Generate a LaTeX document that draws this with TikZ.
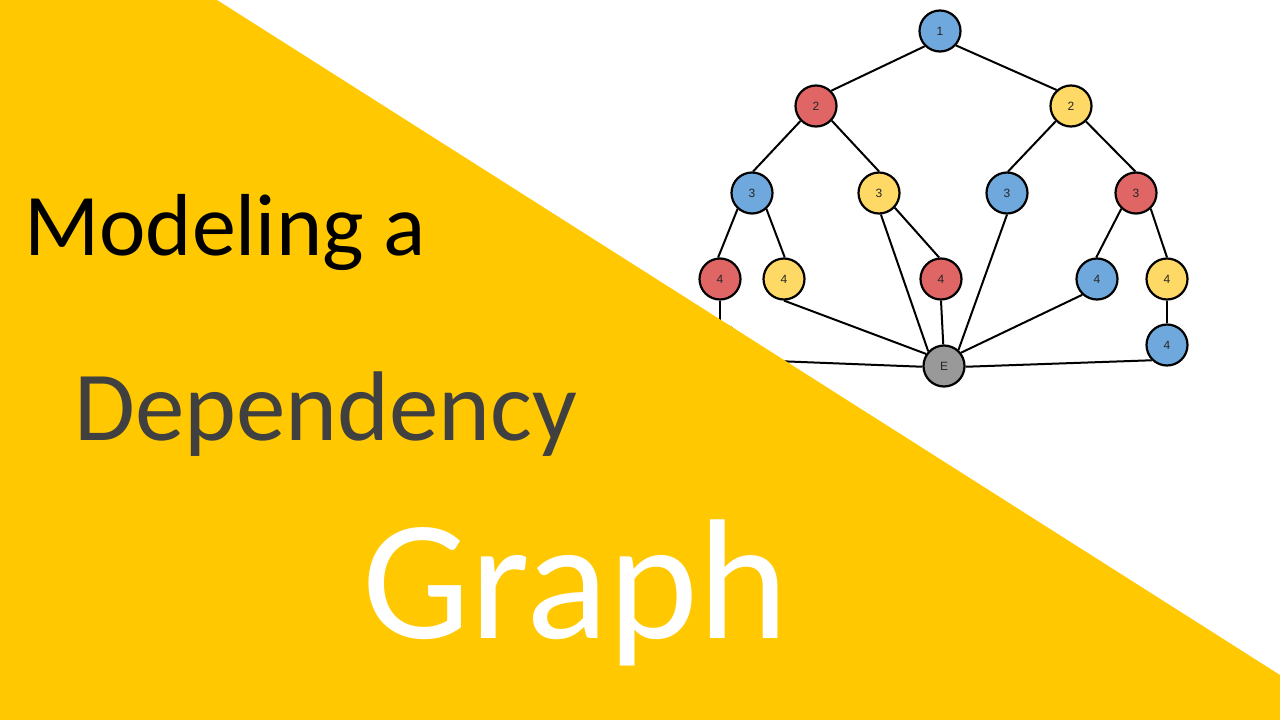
\documentclass[tikz,border=0pt]{standalone}
\usepackage{fontspec}
\setmainfont{Carlito}
\newfontfamily\nodefont{Liberation Sans}
\usetikzlibrary{backgrounds}
\definecolor{cblue}{HTML}{6FA8DC}
\definecolor{cred}{HTML}{E06666}
\definecolor{cyel}{HTML}{FFD966}
\definecolor{cgray}{HTML}{999999}
\definecolor{bgyel}{HTML}{FFC800}
\definecolor{darktxt}{HTML}{404040}
\tikzset{
  vtx/.style={circle, draw=black, line width=2.2pt, minimum size=41pt, inner sep=0pt, font=\nodefont\fontsize{12}{14}\selectfont, text=black!85},
  vb/.style={vtx, fill=cblue},
  vr/.style={vtx, fill=cred},
  vy/.style={vtx, fill=cyel},
  vg/.style={vtx, fill=cgray},
  edge/.style={line width=2pt, black},
  title/.style={anchor=base west, inner sep=0pt}
}
\begin{document}
\begin{tikzpicture}[x=1pt,y=-1pt]
\useasboundingbox (0,0) rectangle (1280,720);
% nodes
\node[vb] (n1) at (940,31) {1};
\node[vr] (n2a) at (816,106) {2};
\node[vy] (n2b) at (1071,106) {2};
\node[vb] (n3a) at (752,193) {3};
\node[vy] (n3b) at (879,193) {3};
\node[vb] (n3c) at (1007,193) {3};
\node[vr] (n3d) at (1136,193) {3};
\node[vr] (n4a) at (720,279) {4};
\node[vy] (n4b) at (784,279) {4};
\node[vr] (n4c) at (941,279) {4};
\node[vb] (n4d) at (1097,279) {4};
\node[vy] (n4e) at (1167,279) {4};
\node[vb] (n4f) at (1167,345) {4};
\node[vb] (n4h) at (720,345) {4};
\node[vg] (nE) at (944,366) {E};
% edges
\begin{scope}[on background layer]
\fill[white] (0,0) rectangle (1280,720);
\draw[edge] (n1.225) -- (n2a.45);
\draw[edge] (n1.318) -- (n2b.132);
\draw[edge] (n2a.224) -- (n3a.87);
\draw[edge] (n2a.317) -- (n3b.90);
\draw[edge] (n2b.225) -- (n3c.87);
\draw[edge] (n2b.314) -- (n3d.92);
\draw[edge] (n3a.228) -- (n4a.95);
\draw[edge] (n3a.312) -- (n4b.88);
\draw[edge] (n3b.317) -- (n4c.95);
\draw[edge] (n3b.275) -- (nE.137);
\draw[edge] (n3c.270) -- (nE.48);
\draw[edge] (n3d.227) -- (n4d.92);
\draw[edge] (n3d.313) -- (n4e.90);
\draw[edge] (n4a.south) -- (n4h.north);
\draw[edge] (n4h.318) -- (nE.182);
\draw[edge] (n4b.south) -- (nE.146);
\draw[edge] (n4c.south) -- (nE.92);
\draw[edge] (n4d.227) -- (nE.38);
\draw[edge] (n4e.south) -- (n4f.north);
\draw[edge] (n4f.225) -- (nE.358);
\end{scope}
% yellow triangle
\fill[bgyel] (217,0) -- (1280,675) -- (1280,720) -- (0,720) -- (0,0) -- cycle;
% titles
\node[title, text=black, font=\fontsize{88}{100}\selectfont] (t1) at (24,255) {Modeling a};
\node[title, text=darktxt, font=\fontsize{99}{110}\selectfont] (t2) at (74,440) {Dependency};
\node[title, text=white, font=\fontsize{171}{190}\selectfont] (t3) at (362,638) {Graph};
\end{tikzpicture}
\end{document}
